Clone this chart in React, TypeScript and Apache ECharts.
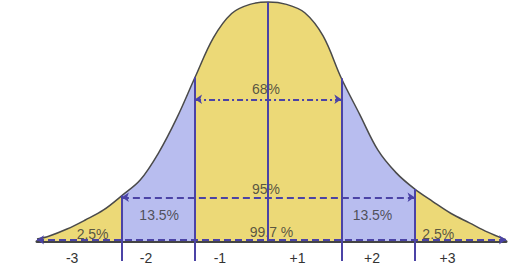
import { useEffect, useRef } from 'react';
import * as echarts from 'echarts';

// Curve (x in sigma-line units, height relative to peak)
const curveX = [-3.16, -3, -2.75, -2.5, -2.25, -2, -1.75, -1.5, -1.25, -1, -0.75, -0.5, -0.25, 0, 0.25, 0.5, 0.75, 1, 1.25, 1.5, 1.75, 2, 2.25, 2.5, 2.75, 3, 3.25];
const curveY = [0.008, 0.02, 0.05, 0.088, 0.13, 0.19, 0.255, 0.368, 0.514, 0.685, 0.85, 0.952, 0.99, 1, 0.99, 0.955, 0.858, 0.681, 0.53, 0.38, 0.285, 0.218, 0.165, 0.115, 0.076, 0.037, 0.005];

// Vertical boundary lines
const sigmaLines = [-2, -1, 0, 1, 2];
// Blue bands
const blueBands = [[-2, -1], [1, 2]];

// Range arrows: [from, to, height]
const arrowFrom = [-1, -2, -3.16];
const arrowTo = [1, 2, 3.25];
const arrowY = [0.593, 0.183, 0.005];

// Percentage texts
const pctTexts = ['68%', '95%', '99.7 %', '13.5%', '13.5%', '2.5%', '2.5%'];
const pctX = [-0.03, -0.03, 0.045, -1.49, 1.425, -2.4, 2.325];
const pctY = [0.634, 0.219, 0.038, 0.109, 0.109, 0.028, 0.028];

// Axis labels and ticks
const tickLabels = ['-3', '-2', '-1', '+1', '+2', '+3'];
const tickLabelPos = [-2.68, -1.67, -0.66, 0.4, 1.42, 2.45];
const tickMarks = [-2, -1, 1, 2];

const YELLOW = '#ecd977';
const BLUE = '#b8bdef';
const INDIGO = '#4b43a6';
const OUTLINE = '#4a4a4a';
const FONT = 'Liberation Sans, Arial, sans-serif';

function heightAt(x: number): number {
  const i = curveX.findIndex((v) => Math.abs(v - x) < 1e-9);
  return i >= 0 ? curveY[i] : 0;
}

export default function App() {
  const ref = useRef<HTMLDivElement>(null);
  useEffect(() => {
    const chart = echarts.init(ref.current!, null, { renderer: 'svg' });

    const pieces: any[] = [];
    pieces.push({ lt: blueBands[0][0], color: YELLOW });
    pieces.push({ gte: blueBands[0][0], lt: blueBands[0][1], color: BLUE });
    pieces.push({ gte: blueBands[0][1], lt: blueBands[1][0], color: YELLOW });
    pieces.push({ gte: blueBands[1][0], lt: blueBands[1][1], color: BLUE });
    pieces.push({ gte: blueBands[1][1], color: YELLOW });

    const markData: any[] = [];
    sigmaLines.forEach((x) => {
      markData.push([
        { coord: [x, 0], symbol: 'none', lineStyle: { color: INDIGO, width: 2, type: 'solid' } },
        { coord: [x, heightAt(x)], symbol: 'none' },
      ]);
    });
    arrowFrom.forEach((x, i) => {
      markData.push([
        {
          coord: [x, arrowY[i]],
          symbol: 'arrow',
          lineStyle: { color: INDIGO, width: 1.8, type: i === 0 ? [6, 3, 2, 3] : [7, 4] },
        },
        { coord: [arrowTo[i], arrowY[i]], symbol: 'arrow' },
      ]);
    });

    const option: any = {
      animation: false,
      backgroundColor: '#ffffff',
      grid: { left: 37, right: 19, top: 2, bottom: 36, containLabel: false, outerBoundsMode: 'none' },
      xAxis: {
        type: 'value',
        min: curveX[0],
        max: curveX[curveX.length - 1],
        offset: 2,
        splitLine: { show: false },
        axisLine: { show: true, lineStyle: { color: '#444444', width: 3 } },
        axisTick: {
          show: true,
          customValues: tickMarks,
          length: 20,
          lineStyle: { color: INDIGO, width: 2 },
        },
        axisLabel: {
          show: true,
          customValues: tickLabelPos,
          margin: 8,
          fontSize: 14,
          fontFamily: FONT,
          color: '#333333',
          formatter: (v: number) => {
            let best = 0;
            tickLabelPos.forEach((p, i) => {
              if (Math.abs(p - v) < Math.abs(tickLabelPos[best] - v)) best = i;
            });
            return tickLabels[best];
          },
        },
      },
      yAxis: { type: 'value', min: 0, max: 1, show: false },
      visualMap: {
        type: 'piecewise',
        show: false,
        dimension: 0,
        seriesIndex: 0,
        pieces,
      },
      series: [
        {
          type: 'line',
          data: curveX.map((x, i) => [x, curveY[i]]),
          smooth: 0.35,
          symbol: 'none',
          clip: false,
          z: 2,
          lineStyle: { color: OUTLINE, width: 1.5 },
          areaStyle: { opacity: 1 },
          silent: true,
          markLine: {
            silent: true,
            symbolSize: 7,
            label: { show: false },
            z: 6,
            data: markData,
          },
        },
        {
          type: 'scatter',
          data: pctX.map((x, i) => ({ value: [x, pctY[i]], name: pctTexts[i] })),
          symbolSize: 1,
          itemStyle: { color: 'rgba(0,0,0,0)' },
          silent: true,
          z: 3,
          label: {
            show: true,
            position: 'inside',
            formatter: (p: any) => p.name,
            fontSize: 14,
            fontFamily: FONT,
            color: '#333333',
            align: 'center',
            verticalAlign: 'middle',
          },
        },
      ],
    };
    chart.setOption(option);
    return () => chart.dispose();
  }, []);
  return (
    <div
      ref={ref}
      style={{ position: 'fixed', left: 0, top: 0, width: 525, height: 277, background: '#ffffff' }}
    />
  );
}
